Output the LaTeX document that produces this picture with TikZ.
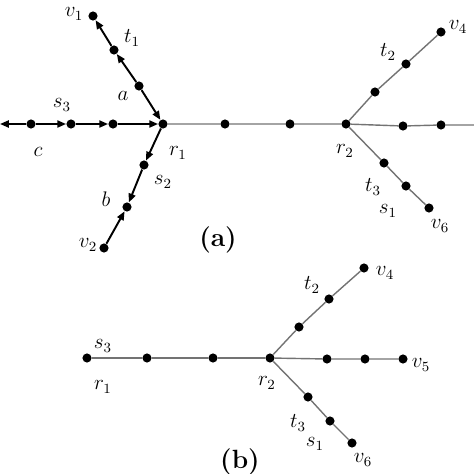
\documentclass[tikz,border=0pt]{standalone}
\usetikzlibrary{arrows.meta}
\tikzset{
	vtx/.style={circle,fill=black,inner sep=0pt,minimum size=5.2pt},
	lbl/.style={inner sep=0pt,font=\fontsize{12}{14}\selectfont},
	tree/.style={draw=black!55,line width=0.8pt},
	walk/.style={draw=black,line width=1.1pt,-{Triangle[length=5pt,width=4pt]}},
	figcap/.style={inner sep=0pt,font=\fontsize{15}{17}\selectfont\bfseries}
}
\begin{document}
\begin{tikzpicture}[x=0.02cm,y=-0.02cm]
	\useasboundingbox (0,0) rectangle (474,474);

	% (a)
	\node[vtx] (r1) at (163,124) {};
	\node[vtx] (a1) at (139, 86) {};
	\node[vtx] (a2) at (114, 50) {};
	\node[vtx] (v1) at ( 93, 16) {};
	\node[vtx] (b1) at (144,165) {};
	\node[vtx] (b2) at (127,207) {};
	\node[vtx] (v2) at (104,248) {};
	\node[vtx] (c1) at ( 31,124) {};
	\node[vtx] (c2) at ( 71,124) {};
	\node[vtx] (c3) at (113,124) {};
	\coordinate (c0) at (  0,124);
	\node[vtx] (m1) at (225,124) {};
	\node[vtx] (m2) at (290,124) {};
	\node[vtx] (r2) at (346,124) {};
	\node[vtx] (d1) at (375, 92) {};
	\node[vtx] (d2) at (406, 64) {};
	\node[vtx] (v4) at (441, 32) {};
	\node[vtx] (e1) at (403,126) {};
	\node[vtx] (e2) at (441,125) {};
	\coordinate (e0) at (474,125);
	\node[vtx] (f1) at (384,163) {};
	\node[vtx] (f2) at (406,186) {};
	\node[vtx] (v6) at (429,208) {};

	\draw[tree] (r1)--(m1)--(m2)--(r2)--(d1)--(d2)--(v4);
	\draw[tree] (r2)--(e1)--(e2)--(e0);
	\draw[tree] (r2)--(f1)--(f2)--(v6);

	\draw[walk] (a1)--(r1);
	\draw[walk] (a1)--(a2);
	\draw[walk] (a2)--(v1);
	\draw[walk] (r1)--(b1);
	\draw[walk] (b1)--(b2);
	\draw[walk] (v2)--(b2);
	\draw[walk] (c1)--(c0);
	\draw[walk] (c1)--(c2);
	\draw[walk] (c2)--(c3);
	\draw[walk] (c3)--(r1);

	\node[lbl] (l-v1) at ( 74, 14) {$v_1$};
	\node[lbl] (l-t1) at (132, 38) {$t_1$};
	\node[lbl] (l-a)  at (123, 96) {$a$};
	\node[lbl] (l-s3) at ( 62,105) {$s_3$};
	\node[lbl] (l-c)  at ( 38,152) {$c$};
	\node[lbl] (l-r1) at (178,153) {$r_1$};
	\node[lbl] (l-s2) at (163,182) {$s_2$};
	\node[lbl] (l-b)  at (106,199) {$b$};
	\node[lbl] (l-v2) at ( 88,245) {$v_2$};
	\node[lbl] (l-t2) at (388, 52) {$t_2$};
	\node[lbl] (l-v4) at (458, 27) {$v_4$};
	\node[lbl] (l-r2) at (345,151) {$r_2$};
	\node[lbl] (l-t3) at (373,187) {$t_3$};
	\node[lbl] (l-s1) at (388,211) {$s_1$};
	\node[lbl] (l-v6) at (440,226) {$v_6$};
	\node[figcap] (cap-a) at (218,240) {(a)};

	% (b)
	\node[vtx] (q2) at (270,358) {};
	\node[vtx] (g1) at ( 87,358) {};
	\node[vtx] (g2) at (147,358) {};
	\node[vtx] (g3) at (213,358) {};
	\node[vtx] (h1) at (299,327) {};
	\node[vtx] (h2) at (329,299) {};
	\node[vtx] (w4) at (364,268) {};
	\node[vtx] (k1) at (327,359) {};
	\node[vtx] (k2) at (365,359) {};
	\node[vtx] (w5) at (403,359) {};
	\node[vtx] (n1) at (308,397) {};
	\node[vtx] (n2) at (330,421) {};
	\node[vtx] (w6) at (352,443) {};

	\draw[tree] (g1)--(g2)--(g3)--(q2);
	\draw[tree] (q2)--(h1)--(h2)--(w4);
	\draw[tree] (q2)--(k1)--(k2)--(w5);
	\draw[tree] (q2)--(n1)--(n2)--(w6);

	\node[lbl] (m-s3) at (103,346) {$s_3$};
	\node[lbl] (m-r1) at (103,387) {$r_1$};
	\node[lbl] (m-t2) at (312,285) {$t_2$};
	\node[lbl] (m-v4) at (385,273) {$v_4$};
	\node[lbl] (m-v5) at (421,365) {$v_5$};
	\node[lbl] (m-r2) at (267,383) {$r_2$};
	\node[lbl] (m-t3) at (298,423) {$t_3$};
	\node[lbl] (m-s1) at (315,444) {$s_1$};
	\node[lbl] (m-v6) at (363,460) {$v_6$};
	\node[figcap] (cap-b) at (240,462) {(b)};
\end{tikzpicture}
\end{document}
